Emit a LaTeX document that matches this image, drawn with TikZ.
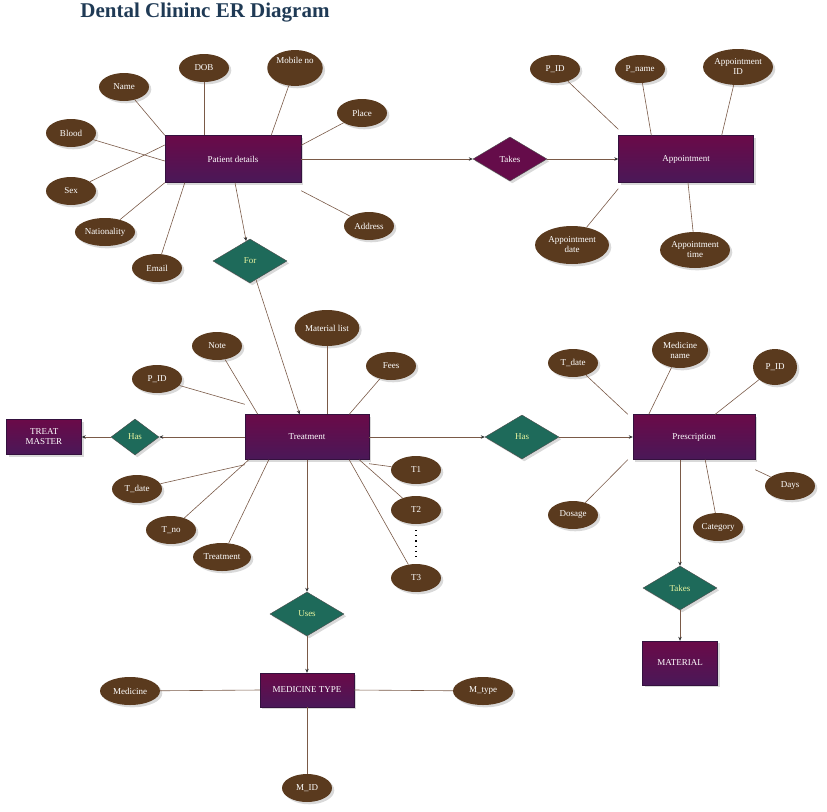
\documentclass[tikz,border=0pt]{standalone}
\usepackage{fontspec}
\setmainfont{Liberation Serif}
\usetikzlibrary{shapes.geometric,shadows,arrows.meta}
\definecolor{entT}{HTML}{6A0A48}
\definecolor{entB}{HTML}{4A1858}
\definecolor{attr}{HTML}{5A3A1E}
\definecolor{rel}{HTML}{1E6A5A}
\definecolor{reltxt}{HTML}{E8F5A0}
\definecolor{ln}{HTML}{7A5A48}
\definecolor{ttl}{HTML}{1F3A55}
\begin{document}
\begin{tikzpicture}[x=1pt,y=-1pt,
  every node/.style={font=\fontsize{9}{10}\selectfont},
  ent/.style={rectangle,draw=entB!70!black,top color=entT,bottom color=entB,text=white,drop shadow={opacity=0.3},align=center},
  at/.style={ellipse,fill=attr,text=white,minimum width=#1,minimum height=28pt,inner sep=1pt,drop shadow={opacity=0.3},align=center},
  at/.default=50pt,
  rl/.style={diamond,draw=black!70,fill=rel,text=reltxt,minimum width=#1,minimum height=44pt,inner sep=0pt,aspect=1.7,drop shadow={opacity=0.3}},
  rl/.default=74pt,
  rlp/.style={rl,fill=entT!85!entB,text=white},
  e/.style={draw=ln,line width=0.6pt},
  a/.style={e,-{Stealth[length=4pt,width=3.5pt,color=black!80]}}]
\useasboundingbox (0,0) rectangle (827,811);
\node[font=\bfseries\fontsize{21}{23}\selectfont,text=ttl] (title) at (205,13) {Dental Clininc ER Diagram};
% entities
\node[ent,minimum width=136pt,minimum height=47pt] (pd) at (233,159) {Patient details};
\node[ent,minimum width=135pt,minimum height=47pt] (ap) at (686,159) {Appointment};
\node[ent,minimum width=124pt,minimum height=45pt] (tr) at (307,437) {Treatment};
\node[ent,minimum width=122pt,minimum height=45pt] (pr) at (694,437) {Prescription};
\node[ent,minimum width=75pt,minimum height=35pt,align=left] (tm) at (44,437) {\ \ TREAT\\MASTER};
\node[ent,minimum width=75pt,minimum height=44pt] (mat) at (680,663) {MATERIAL};
\node[ent,minimum width=94pt,minimum height=34pt] (mt) at (307,690) {MEDICINE TYPE};
% relations
\node[rlp] (takes) at (510,159) {Takes};
\node[rl] (for) at (250,261) {For};
\node[rl=48pt,minimum height=36pt] (has1) at (135,437) {Has};
\node[rl] (has2) at (522,437) {Has};
\node[rl] (takes2) at (680,588) {Takes};
\node[rl] (uses) at (307,614) {Uses};
% attributes patient
\node[at] (name) at (124,87) {Name};
\node[at] (dob) at (204,68) {DOB};
\node[at,minimum height=36pt] (mob) at (295,68) {Mobile no\\[6pt]};
\node[at] (place) at (362,113) {Place};
\node[at] (blood) at (71,133) {Blood};
\node[at] (sex) at (71,191) {Sex};
\node[at=60pt] (nat) at (105,232) {Nationality};
\node[at] (email) at (157,268) {Email};
\node[at] (addr) at (369,226) {Address};
% appointment attrs
\node[at] (pid1) at (555,69) {P\_ID};
\node[at] (pname) at (640,69) {P\_name};
\node[at=62pt,minimum height=36pt] (apid) at (738,67) {Appointment\\ID};
\node[at=74pt,minimum height=38pt] (apd) at (572,245) {Appointment\\date};
\node[at=64pt,minimum height=36pt] (apt) at (695,250) {Appointment\\time};
% treatment attrs
\node[at] (note) at (217,346) {Note};
\node[at=56pt,minimum height=36pt] (ml) at (327,328) {Material list};
\node[at] (fees) at (391,366) {Fees};
\node[at] (pid2) at (157,379) {P\_ID};
\node[at] (tdate) at (137,489) {T\_date};
\node[at] (tno) at (171,530) {T\_no};
\node[at=58pt] (treat) at (222,557) {Treatment};
\node[at] (t1) at (416,470) {T1};
\node[at] (t2) at (416,510) {T2};
\node[at] (t3) at (416,578) {T3};
\coordinate (d1) at (416,530); \coordinate (d2) at (416,560);
\draw[line width=1.2pt,dash pattern=on 1.2pt off 4pt,black] (d1) -- (d2);
% prescription attrs
\node[at] (tdate2) at (573,363) {T\_date};
\node[at=56pt,minimum height=36pt] (medn) at (680,350) {Medicine\\name};
\node[at=44pt,minimum height=36pt] (pid3) at (775,367) {P\_ID};
\node[at] (days) at (790,486) {Days};
\node[at] (dos) at (573,515) {Dosage};
\node[at] (cat) at (718,527) {Category};
% medicine type attrs
\node[at=60pt] (med) at (130,691) {Medicine};
\node[at=60pt] (mtype) at (483,691) {M\_type};
\node[at] (mid) at (307,788) {M\_ID};
% edges patient
\draw[e] (name) -- (pd.north west);
\draw[e] (dob) -- (dob |- pd.north);
\draw[e] (mob) -- ([xshift=-30pt]pd.north east);
\draw[e] (place) -- ([yshift=-10pt]pd.north east);
\draw[e] (blood) -- ([yshift=-2pt]pd.west);
\draw[e] (sex) -- ([yshift=14pt]pd.west);
\draw[e] (nat) -- (pd.south west);
\draw[e] (email) -- ([xshift=20pt]pd.south west);
\draw[e] (addr) -- ([yshift=-8pt]pd.south east);
% appointment
\draw[e] (pid1) -- ([yshift=6pt]ap.north west);
\draw[e] (pname) -- ([xshift=33pt]ap.north west);
\draw[e] (apid) -- ([xshift=-32pt]ap.north east);
\draw[e] (apd) -- ([yshift=-6pt]ap.south west);
\draw[e] (apt) -- ([xshift=2pt]ap.south);
% treatment
\draw[e] (note) -- ([xshift=13pt]tr.north west);
\draw[e] (ml) -- (ml |- tr.north);
\draw[e] (fees) -- ([xshift=-20pt]tr.north east);
\draw[e] (pid2) -- ([yshift=10pt]tr.north west);
\draw[e] (tdate) -- ([yshift=-5pt]tr.south west);
\draw[e] (tno) -- ([xshift=4pt]tr.south west);
\draw[e] (treat) -- ([xshift=24pt]tr.south west);
\draw[e] (t1) -- ([yshift=-4pt]tr.south east);
\draw[e] (t2) -- ([xshift=-10pt]tr.south east);
\draw[e] (t3) -- ([xshift=-20pt]tr.south east);
% prescription
\draw[e] (tdate2) -- ([xshift=-5pt]pr.north west);
\draw[e] (medn) -- ([xshift=16pt]pr.north west);
\draw[e] (pid3) -- ([xshift=-40pt]pr.north east);
\draw[e] (days) -- ([yshift=-10pt]pr.south east);
\draw[e] (dos) -- ([xshift=-5pt]pr.south west);
\draw[e] (cat) -- ([xshift=-50pt]pr.south east);
% medicine type
\draw[e] (med) -- (mt.west);
\draw[e] (mtype) -- (mt.east);
\draw[e] (mid) -- (mt);
% relationships
\draw[a] (pd) -- (takes);
\draw[a] (takes) -- (ap);
\draw[a] (pd.south -| 235,0) -- (for);
\draw[a] (for) -- (tr);
\draw[a] (tr) -- (has1);
\draw[a] (has1) -- (tm);
\draw[a] (tr) -- (has2);
\draw[a] (has2) -- (pr);
\draw[a] (pr.south -| takes2) -- (takes2);
\draw[a] (takes2) -- (mat);
\draw[a] (tr) -- (uses);
\draw[a] (uses) -- (mt);
\end{tikzpicture}
\end{document}
